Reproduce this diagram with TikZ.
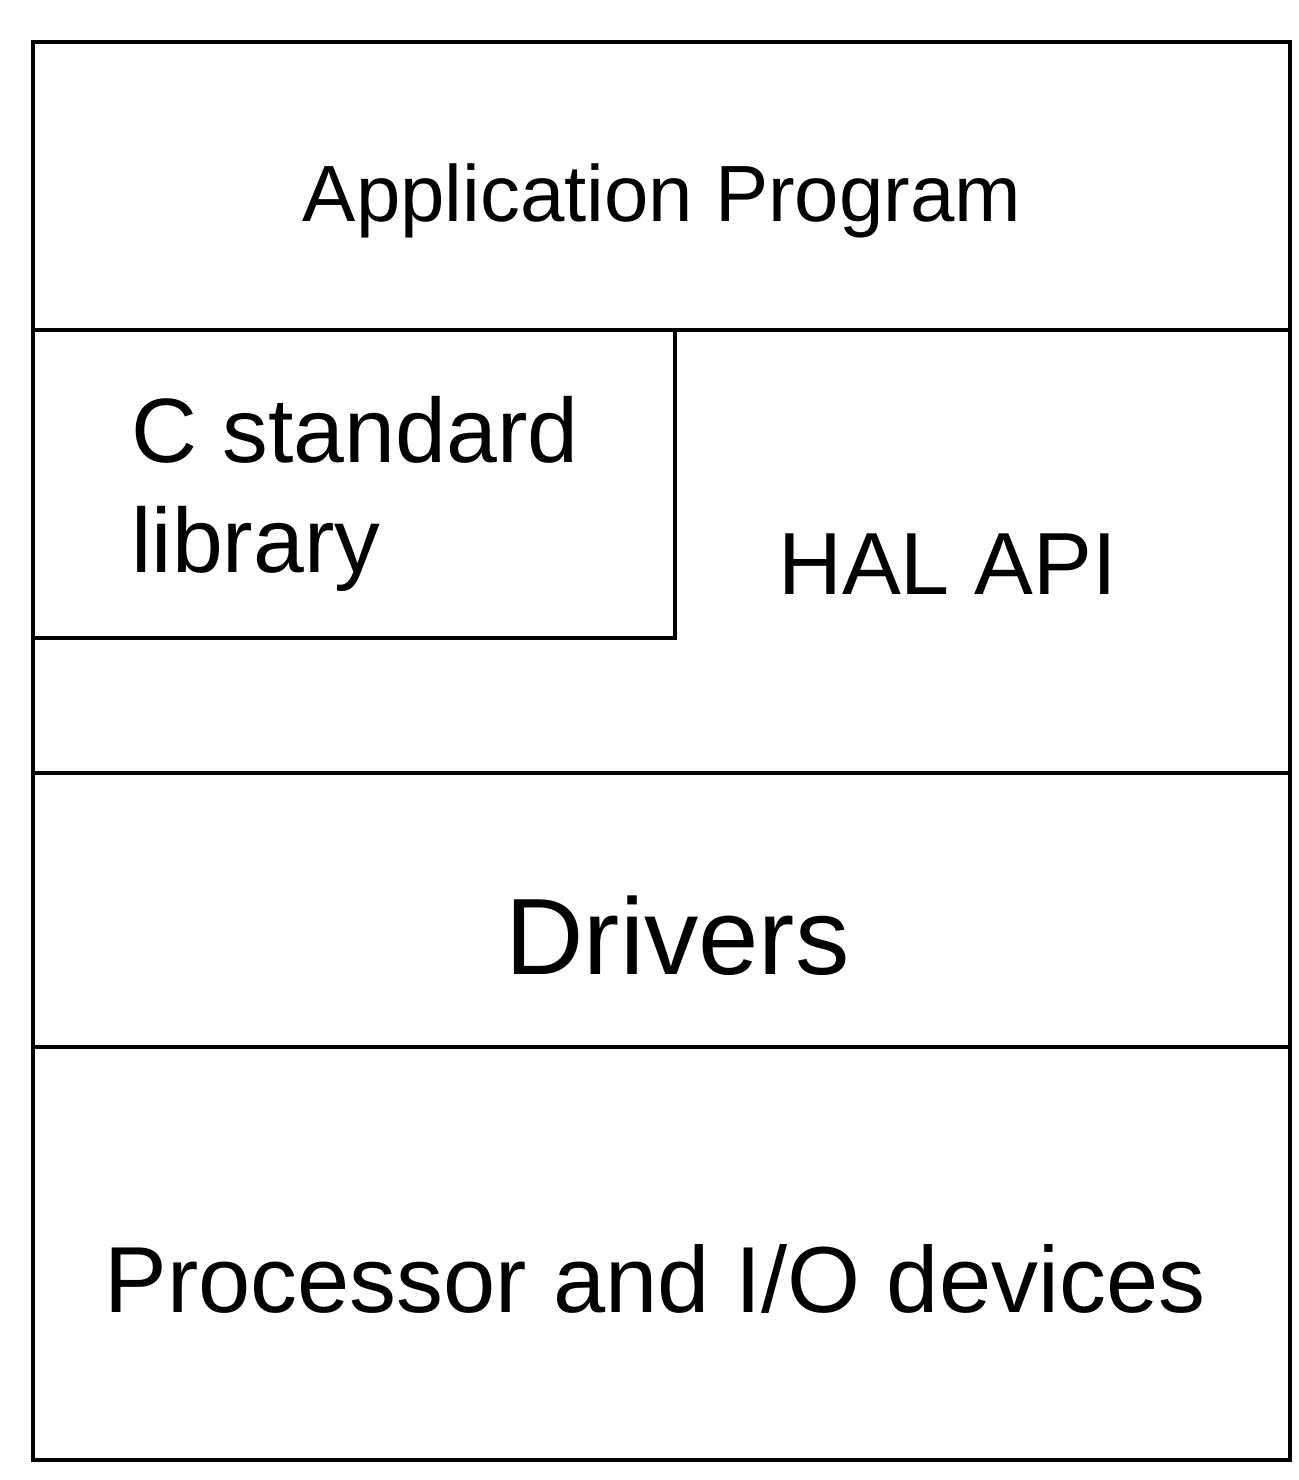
\documentclass[tikz,border=0pt]{standalone}
\usepackage{fontspec}
\setmainfont{Liberation Sans}
\begin{document}
\begin{tikzpicture}[line width=0.9pt]
            \useasboundingbox (0,0) rectangle (12.99,14.80);

            % Boxes
            \draw (0.33,0.20) rectangle (12.90,14.38);
            \draw (0.33,8.42) rectangle (6.75,11.50);

            % Lines
            \draw (0.33,11.50) -- (12.90,11.50);
            \draw (0.33,7.07) -- (12.90,7.07);
            \draw (0.33,4.33) -- (12.90,4.33);

            % Labels
            \node[anchor=base, inner sep=0pt] (app) at (6.62,12.58) {\fontsize{22.7pt}{27pt}\selectfont Application Program};
            \node[anchor=base west, inner sep=0pt] (clib) at (1.30,10.17) {\fontsize{26pt}{31pt}\selectfont C standard};
            \node[anchor=base west, inner sep=0pt] (clibb) at (1.30,9.07) {\fontsize{26pt}{31pt}\selectfont library};
            \node[anchor=base, inner sep=0pt] (hal) at (9.475,8.85) {\fontsize{25.1pt}{30pt}\selectfont HAL API};
            \node[anchor=base, inner sep=0pt] (drv) at (6.775,5.05) {\fontsize{30.9pt}{37pt}\selectfont Drivers};
            \node[anchor=base, inner sep=0pt] (proc) at (6.55,1.67) {\fontsize{26.7pt}{32pt}\selectfont Processor and I/O devices};
\end{tikzpicture}
\end{document}
